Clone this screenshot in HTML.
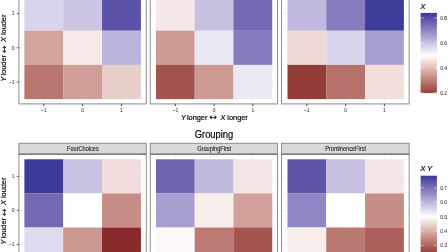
<!DOCTYPE html>
<html><head><meta charset="utf-8"><title>Grouping</title>
<style>html,body{margin:0;padding:0;background:#fff;overflow:hidden}svg{display:block}</style>
</head><body>
<svg width="448" height="252" viewBox="0 0 448 252" font-family="'Liberation Sans', sans-serif">
<rect width="448" height="252" fill="#fff"/>
<clipPath id="ct0"><rect x="18.9" y="-20" width="127.4" height="123.9"/></clipPath>
<g clip-path="url(#ct0)">
<line x1="24.40" x2="24.40" y1="-20" y2="103.9" stroke="#efefef" stroke-width="0.35"/>
<line y1="-3.46" y2="-3.46" x1="18.9" x2="146.3" stroke="#efefef" stroke-width="0.35"/>
<line x1="63.22" x2="63.22" y1="-20" y2="103.9" stroke="#efefef" stroke-width="0.35"/>
<line y1="30.71" y2="30.71" x1="18.9" x2="146.3" stroke="#efefef" stroke-width="0.35"/>
<line x1="102.04" x2="102.04" y1="-20" y2="103.9" stroke="#efefef" stroke-width="0.35"/>
<line y1="64.88" y2="64.88" x1="18.9" x2="146.3" stroke="#efefef" stroke-width="0.35"/>
<line x1="140.86" x2="140.86" y1="-20" y2="103.9" stroke="#efefef" stroke-width="0.35"/>
<line y1="99.05" y2="99.05" x1="18.9" x2="146.3" stroke="#efefef" stroke-width="0.35"/>
<line x1="43.81" x2="43.81" y1="-20" y2="103.9" stroke="#efefef" stroke-width="0.7"/>
<line y1="13.62" y2="13.62" x1="18.9" x2="146.3" stroke="#efefef" stroke-width="0.7"/>
<line x1="82.63" x2="82.63" y1="-20" y2="103.9" stroke="#efefef" stroke-width="0.7"/>
<line y1="47.79" y2="47.79" x1="18.9" x2="146.3" stroke="#efefef" stroke-width="0.7"/>
<line x1="121.45" x2="121.45" y1="-20" y2="103.9" stroke="#efefef" stroke-width="0.7"/>
<line y1="81.97" y2="81.97" x1="18.9" x2="146.3" stroke="#efefef" stroke-width="0.7"/>
<rect x="24.40" y="-3.46" width="38.87" height="34.22" fill="#d9d4eb"/>
<rect x="63.22" y="-3.46" width="38.87" height="34.22" fill="#ccc6e4"/>
<rect x="102.04" y="-3.46" width="38.87" height="34.22" fill="#5a53a7"/>
<rect x="24.40" y="30.71" width="38.87" height="34.22" fill="#d3a39d"/>
<rect x="63.22" y="30.71" width="38.87" height="34.22" fill="#f6eae8"/>
<rect x="102.04" y="30.71" width="38.87" height="34.22" fill="#bcb4db"/>
<rect x="24.40" y="64.88" width="38.87" height="34.22" fill="#b8766e"/>
<rect x="63.22" y="64.88" width="38.87" height="34.22" fill="#d09e98"/>
<rect x="102.04" y="64.88" width="38.87" height="34.22" fill="#e9cfcb"/>
</g>
<path d="M18.9,-20V103.9M146.3,-20V103.9" fill="none" stroke="#8a8a8a" stroke-width="0.95"/>
<line x1="18.42" x2="146.78" y1="103.9" y2="103.9" stroke="#a0a0a0" stroke-width="1.35"/>
<line x1="43.81" x2="43.81" y1="103.9" y2="106.10000000000001" stroke="#222" stroke-width="0.8"/>
<text transform="translate(43.81,111.50) scale(0.88,1)" font-size="5.6"  fill="#454545" stroke="#454545" stroke-width="0.08" text-anchor="middle">−1</text>
<line x1="82.63" x2="82.63" y1="103.9" y2="106.10000000000001" stroke="#222" stroke-width="0.8"/>
<text transform="translate(82.63,111.50) scale(0.88,1)" font-size="5.6"  fill="#454545" stroke="#454545" stroke-width="0.08" text-anchor="middle">0</text>
<line x1="121.45" x2="121.45" y1="103.9" y2="106.10000000000001" stroke="#222" stroke-width="0.8"/>
<text transform="translate(121.45,111.50) scale(0.88,1)" font-size="5.6"  fill="#454545" stroke="#454545" stroke-width="0.08" text-anchor="middle">1</text>
<clipPath id="ct1"><rect x="150.25" y="-20" width="127.3" height="123.9"/></clipPath>
<g clip-path="url(#ct1)">
<line x1="156.00" x2="156.00" y1="-20" y2="103.9" stroke="#efefef" stroke-width="0.35"/>
<line y1="-3.46" y2="-3.46" x1="150.25" x2="277.55" stroke="#efefef" stroke-width="0.35"/>
<line x1="194.72" x2="194.72" y1="-20" y2="103.9" stroke="#efefef" stroke-width="0.35"/>
<line y1="30.71" y2="30.71" x1="150.25" x2="277.55" stroke="#efefef" stroke-width="0.35"/>
<line x1="233.44" x2="233.44" y1="-20" y2="103.9" stroke="#efefef" stroke-width="0.35"/>
<line y1="64.88" y2="64.88" x1="150.25" x2="277.55" stroke="#efefef" stroke-width="0.35"/>
<line x1="272.16" x2="272.16" y1="-20" y2="103.9" stroke="#efefef" stroke-width="0.35"/>
<line y1="99.05" y2="99.05" x1="150.25" x2="277.55" stroke="#efefef" stroke-width="0.35"/>
<line x1="175.36" x2="175.36" y1="-20" y2="103.9" stroke="#efefef" stroke-width="0.7"/>
<line y1="13.62" y2="13.62" x1="150.25" x2="277.55" stroke="#efefef" stroke-width="0.7"/>
<line x1="214.08" x2="214.08" y1="-20" y2="103.9" stroke="#efefef" stroke-width="0.7"/>
<line y1="47.79" y2="47.79" x1="150.25" x2="277.55" stroke="#efefef" stroke-width="0.7"/>
<line x1="252.80" x2="252.80" y1="-20" y2="103.9" stroke="#efefef" stroke-width="0.7"/>
<line y1="81.97" y2="81.97" x1="150.25" x2="277.55" stroke="#efefef" stroke-width="0.7"/>
<rect x="156.00" y="-3.46" width="38.77" height="34.22" fill="#f5e8e6"/>
<rect x="194.72" y="-3.46" width="38.77" height="34.22" fill="#c6bfe0"/>
<rect x="233.44" y="-3.46" width="38.77" height="34.22" fill="#7268b3"/>
<rect x="156.00" y="30.71" width="38.77" height="34.22" fill="#ce9b94"/>
<rect x="194.72" y="30.71" width="38.77" height="34.22" fill="#ebe8f4"/>
<rect x="233.44" y="30.71" width="38.77" height="34.22" fill="#857abd"/>
<rect x="156.00" y="64.88" width="38.77" height="34.22" fill="#a2534c"/>
<rect x="194.72" y="64.88" width="38.77" height="34.22" fill="#ce9a94"/>
<rect x="233.44" y="64.88" width="38.77" height="34.22" fill="#ece9f5"/>
</g>
<path d="M150.25,-20V103.9M277.55,-20V103.9" fill="none" stroke="#8a8a8a" stroke-width="0.95"/>
<line x1="149.78" x2="278.03" y1="103.9" y2="103.9" stroke="#a0a0a0" stroke-width="1.35"/>
<line x1="175.36" x2="175.36" y1="103.9" y2="106.10000000000001" stroke="#222" stroke-width="0.8"/>
<text transform="translate(175.36,111.50) scale(0.88,1)" font-size="5.6"  fill="#454545" stroke="#454545" stroke-width="0.08" text-anchor="middle">−1</text>
<line x1="214.08" x2="214.08" y1="103.9" y2="106.10000000000001" stroke="#222" stroke-width="0.8"/>
<text transform="translate(214.08,111.50) scale(0.88,1)" font-size="5.6"  fill="#454545" stroke="#454545" stroke-width="0.08" text-anchor="middle">0</text>
<line x1="252.80" x2="252.80" y1="103.9" y2="106.10000000000001" stroke="#222" stroke-width="0.8"/>
<text transform="translate(252.80,111.50) scale(0.88,1)" font-size="5.6"  fill="#454545" stroke="#454545" stroke-width="0.08" text-anchor="middle">1</text>
<clipPath id="ct2"><rect x="281.5" y="-20" width="127.65" height="123.9"/></clipPath>
<g clip-path="url(#ct2)">
<line x1="287.50" x2="287.50" y1="-20" y2="103.9" stroke="#efefef" stroke-width="0.35"/>
<line y1="-3.46" y2="-3.46" x1="281.5" x2="409.15" stroke="#efefef" stroke-width="0.35"/>
<line x1="326.27" x2="326.27" y1="-20" y2="103.9" stroke="#efefef" stroke-width="0.35"/>
<line y1="30.71" y2="30.71" x1="281.5" x2="409.15" stroke="#efefef" stroke-width="0.35"/>
<line x1="365.04" x2="365.04" y1="-20" y2="103.9" stroke="#efefef" stroke-width="0.35"/>
<line y1="64.88" y2="64.88" x1="281.5" x2="409.15" stroke="#efefef" stroke-width="0.35"/>
<line x1="403.81" x2="403.81" y1="-20" y2="103.9" stroke="#efefef" stroke-width="0.35"/>
<line y1="99.05" y2="99.05" x1="281.5" x2="409.15" stroke="#efefef" stroke-width="0.35"/>
<line x1="306.88" x2="306.88" y1="-20" y2="103.9" stroke="#efefef" stroke-width="0.7"/>
<line y1="13.62" y2="13.62" x1="281.5" x2="409.15" stroke="#efefef" stroke-width="0.7"/>
<line x1="345.65" x2="345.65" y1="-20" y2="103.9" stroke="#efefef" stroke-width="0.7"/>
<line y1="47.79" y2="47.79" x1="281.5" x2="409.15" stroke="#efefef" stroke-width="0.7"/>
<line x1="384.43" x2="384.43" y1="-20" y2="103.9" stroke="#efefef" stroke-width="0.7"/>
<line y1="81.97" y2="81.97" x1="281.5" x2="409.15" stroke="#efefef" stroke-width="0.7"/>
<rect x="287.50" y="-3.46" width="38.82" height="34.22" fill="#c0b8dd"/>
<rect x="326.27" y="-3.46" width="38.82" height="34.22" fill="#877cbe"/>
<rect x="365.04" y="-3.46" width="38.82" height="34.22" fill="#3c3c99"/>
<rect x="287.50" y="30.71" width="38.82" height="34.22" fill="#eed8d5"/>
<rect x="326.27" y="30.71" width="38.82" height="34.22" fill="#d9d4eb"/>
<rect x="365.04" y="30.71" width="38.82" height="34.22" fill="#a89ed0"/>
<rect x="287.50" y="64.88" width="38.82" height="34.22" fill="#933d39"/>
<rect x="326.27" y="64.88" width="38.82" height="34.22" fill="#b6726a"/>
<rect x="365.04" y="64.88" width="38.82" height="34.22" fill="#f1dfdc"/>
</g>
<path d="M281.5,-20V103.9M409.15,-20V103.9" fill="none" stroke="#8a8a8a" stroke-width="0.95"/>
<line x1="281.02" x2="409.62" y1="103.9" y2="103.9" stroke="#a0a0a0" stroke-width="1.35"/>
<line x1="306.88" x2="306.88" y1="103.9" y2="106.10000000000001" stroke="#222" stroke-width="0.8"/>
<text transform="translate(306.88,111.50) scale(0.88,1)" font-size="5.6"  fill="#454545" stroke="#454545" stroke-width="0.08" text-anchor="middle">−1</text>
<line x1="345.65" x2="345.65" y1="103.9" y2="106.10000000000001" stroke="#222" stroke-width="0.8"/>
<text transform="translate(345.65,111.50) scale(0.88,1)" font-size="5.6"  fill="#454545" stroke="#454545" stroke-width="0.08" text-anchor="middle">0</text>
<line x1="384.43" x2="384.43" y1="103.9" y2="106.10000000000001" stroke="#222" stroke-width="0.8"/>
<text transform="translate(384.43,111.50) scale(0.88,1)" font-size="5.6"  fill="#454545" stroke="#454545" stroke-width="0.08" text-anchor="middle">1</text>
<line x1="16.80" x2="18.70" y1="13.62" y2="13.62" stroke="#222" stroke-width="0.8"/>
<text transform="translate(14.60,15.42) scale(0.88,1)" font-size="5.6"  fill="#454545" stroke="#454545" stroke-width="0.08" text-anchor="end">1</text>
<line x1="16.80" x2="18.70" y1="47.79" y2="47.79" stroke="#222" stroke-width="0.8"/>
<text transform="translate(14.60,49.59) scale(0.88,1)" font-size="5.6"  fill="#454545" stroke="#454545" stroke-width="0.08" text-anchor="end">0</text>
<line x1="16.80" x2="18.70" y1="81.97" y2="81.97" stroke="#222" stroke-width="0.8"/>
<text transform="translate(14.60,83.77) scale(0.88,1)" font-size="5.6"  fill="#454545" stroke="#454545" stroke-width="0.08" text-anchor="end">−1</text>
<clipPath id="cb0"><rect x="18.9" y="154.2" width="127.4" height="145.8"/></clipPath>
<g clip-path="url(#cb0)">
<line x1="24.40" x2="24.40" y1="154.2" y2="300" stroke="#efefef" stroke-width="0.35"/>
<line y1="159.30" y2="159.30" x1="18.9" x2="146.3" stroke="#efefef" stroke-width="0.35"/>
<line x1="63.22" x2="63.22" y1="154.2" y2="300" stroke="#efefef" stroke-width="0.35"/>
<line y1="193.40" y2="193.40" x1="18.9" x2="146.3" stroke="#efefef" stroke-width="0.35"/>
<line x1="102.04" x2="102.04" y1="154.2" y2="300" stroke="#efefef" stroke-width="0.35"/>
<line y1="227.50" y2="227.50" x1="18.9" x2="146.3" stroke="#efefef" stroke-width="0.35"/>
<line x1="140.86" x2="140.86" y1="154.2" y2="300" stroke="#efefef" stroke-width="0.35"/>
<line y1="261.60" y2="261.60" x1="18.9" x2="146.3" stroke="#efefef" stroke-width="0.35"/>
<line x1="43.81" x2="43.81" y1="154.2" y2="300" stroke="#efefef" stroke-width="0.7"/>
<line y1="176.35" y2="176.35" x1="18.9" x2="146.3" stroke="#efefef" stroke-width="0.7"/>
<line x1="82.63" x2="82.63" y1="154.2" y2="300" stroke="#efefef" stroke-width="0.7"/>
<line y1="210.45" y2="210.45" x1="18.9" x2="146.3" stroke="#efefef" stroke-width="0.7"/>
<line x1="121.45" x2="121.45" y1="154.2" y2="300" stroke="#efefef" stroke-width="0.7"/>
<line y1="244.55" y2="244.55" x1="18.9" x2="146.3" stroke="#efefef" stroke-width="0.7"/>
<rect x="24.40" y="159.30" width="38.87" height="34.15" fill="#3b3b99"/>
<rect x="63.22" y="159.30" width="38.87" height="34.15" fill="#c8c1e1"/>
<rect x="102.04" y="159.30" width="38.87" height="34.15" fill="#f1dedc"/>
<rect x="24.40" y="193.40" width="38.87" height="34.15" fill="#7369b3"/>
<rect x="63.22" y="193.40" width="38.87" height="34.15" fill="#ffffff"/>
<rect x="102.04" y="193.40" width="38.87" height="34.15" fill="#c78e87"/>
<rect x="24.40" y="227.50" width="38.87" height="34.15" fill="#dfdbee"/>
<rect x="63.22" y="227.50" width="38.87" height="34.15" fill="#cc9790"/>
<rect x="102.04" y="227.50" width="38.87" height="34.15" fill="#872a29"/>
</g>
<rect x="18.9" y="154.2" width="127.4" height="145.8" fill="none" stroke="#8a8a8a" stroke-width="0.95"/>
<rect x="18.9" y="143.3" width="127.4" height="10.899999999999977" fill="#d9d9d9" stroke="#8a8a8a" stroke-width="0.95"/>
<line x1="18.9" x2="146.3" y1="154.2" y2="154.2" stroke="#777" stroke-width="1.3"/>
<text transform="translate(82.90,150.65) scale(0.89,1)" font-size="6.3" fill="#1a1a1a" stroke="#1a1a1a" stroke-width="0.1" text-anchor="middle">FourChoices</text>
<clipPath id="cb1"><rect x="150.25" y="154.2" width="127.3" height="145.8"/></clipPath>
<g clip-path="url(#cb1)">
<line x1="156.00" x2="156.00" y1="154.2" y2="300" stroke="#efefef" stroke-width="0.35"/>
<line y1="159.30" y2="159.30" x1="150.25" x2="277.55" stroke="#efefef" stroke-width="0.35"/>
<line x1="194.72" x2="194.72" y1="154.2" y2="300" stroke="#efefef" stroke-width="0.35"/>
<line y1="193.40" y2="193.40" x1="150.25" x2="277.55" stroke="#efefef" stroke-width="0.35"/>
<line x1="233.44" x2="233.44" y1="154.2" y2="300" stroke="#efefef" stroke-width="0.35"/>
<line y1="227.50" y2="227.50" x1="150.25" x2="277.55" stroke="#efefef" stroke-width="0.35"/>
<line x1="272.16" x2="272.16" y1="154.2" y2="300" stroke="#efefef" stroke-width="0.35"/>
<line y1="261.60" y2="261.60" x1="150.25" x2="277.55" stroke="#efefef" stroke-width="0.35"/>
<line x1="175.36" x2="175.36" y1="154.2" y2="300" stroke="#efefef" stroke-width="0.7"/>
<line y1="176.35" y2="176.35" x1="150.25" x2="277.55" stroke="#efefef" stroke-width="0.7"/>
<line x1="214.08" x2="214.08" y1="154.2" y2="300" stroke="#efefef" stroke-width="0.7"/>
<line y1="210.45" y2="210.45" x1="150.25" x2="277.55" stroke="#efefef" stroke-width="0.7"/>
<line x1="252.80" x2="252.80" y1="154.2" y2="300" stroke="#efefef" stroke-width="0.7"/>
<line y1="244.55" y2="244.55" x1="150.25" x2="277.55" stroke="#efefef" stroke-width="0.7"/>
<rect x="156.00" y="159.30" width="38.77" height="34.15" fill="#6e65b1"/>
<rect x="194.72" y="159.30" width="38.77" height="34.15" fill="#c0b8dd"/>
<rect x="233.44" y="159.30" width="38.77" height="34.15" fill="#f4e6e4"/>
<rect x="156.00" y="193.40" width="38.77" height="34.15" fill="#a89fd0"/>
<rect x="194.72" y="193.40" width="38.77" height="34.15" fill="#f8efed"/>
<rect x="233.44" y="193.40" width="38.77" height="34.15" fill="#d2a19c"/>
<rect x="156.00" y="227.50" width="38.77" height="34.15" fill="#fcf8f7"/>
<rect x="194.72" y="227.50" width="38.77" height="34.15" fill="#bb7a73"/>
<rect x="233.44" y="227.50" width="38.77" height="34.15" fill="#a3544e"/>
</g>
<rect x="150.25" y="154.2" width="127.3" height="145.8" fill="none" stroke="#8a8a8a" stroke-width="0.95"/>
<rect x="150.25" y="143.3" width="127.3" height="10.899999999999977" fill="#d9d9d9" stroke="#8a8a8a" stroke-width="0.95"/>
<line x1="150.25" x2="277.55" y1="154.2" y2="154.2" stroke="#777" stroke-width="1.3"/>
<text transform="translate(214.20,150.65) scale(0.89,1)" font-size="6.3" fill="#1a1a1a" stroke="#1a1a1a" stroke-width="0.1" text-anchor="middle">GroupingFirst</text>
<clipPath id="cb2"><rect x="281.5" y="154.2" width="127.65" height="145.8"/></clipPath>
<g clip-path="url(#cb2)">
<line x1="287.50" x2="287.50" y1="154.2" y2="300" stroke="#efefef" stroke-width="0.35"/>
<line y1="159.30" y2="159.30" x1="281.5" x2="409.15" stroke="#efefef" stroke-width="0.35"/>
<line x1="326.27" x2="326.27" y1="154.2" y2="300" stroke="#efefef" stroke-width="0.35"/>
<line y1="193.40" y2="193.40" x1="281.5" x2="409.15" stroke="#efefef" stroke-width="0.35"/>
<line x1="365.04" x2="365.04" y1="154.2" y2="300" stroke="#efefef" stroke-width="0.35"/>
<line y1="227.50" y2="227.50" x1="281.5" x2="409.15" stroke="#efefef" stroke-width="0.35"/>
<line x1="403.81" x2="403.81" y1="154.2" y2="300" stroke="#efefef" stroke-width="0.35"/>
<line y1="261.60" y2="261.60" x1="281.5" x2="409.15" stroke="#efefef" stroke-width="0.35"/>
<line x1="306.88" x2="306.88" y1="154.2" y2="300" stroke="#efefef" stroke-width="0.7"/>
<line y1="176.35" y2="176.35" x1="281.5" x2="409.15" stroke="#efefef" stroke-width="0.7"/>
<line x1="345.65" x2="345.65" y1="154.2" y2="300" stroke="#efefef" stroke-width="0.7"/>
<line y1="210.45" y2="210.45" x1="281.5" x2="409.15" stroke="#efefef" stroke-width="0.7"/>
<line x1="384.43" x2="384.43" y1="154.2" y2="300" stroke="#efefef" stroke-width="0.7"/>
<line y1="244.55" y2="244.55" x1="281.5" x2="409.15" stroke="#efefef" stroke-width="0.7"/>
<rect x="287.50" y="159.30" width="38.82" height="34.15" fill="#5c55a8"/>
<rect x="326.27" y="159.30" width="38.82" height="34.15" fill="#c7c0e1"/>
<rect x="365.04" y="159.30" width="38.82" height="34.15" fill="#f4e6e4"/>
<rect x="287.50" y="193.40" width="38.82" height="34.15" fill="#9086c3"/>
<rect x="326.27" y="193.40" width="38.82" height="34.15" fill="#ffffff"/>
<rect x="365.04" y="193.40" width="38.82" height="34.15" fill="#c78e87"/>
<rect x="287.50" y="227.50" width="38.82" height="34.15" fill="#f8efed"/>
<rect x="326.27" y="227.50" width="38.82" height="34.15" fill="#b97870"/>
<rect x="365.04" y="227.50" width="38.82" height="34.15" fill="#ab6059"/>
</g>
<rect x="281.5" y="154.2" width="127.65" height="145.8" fill="none" stroke="#8a8a8a" stroke-width="0.95"/>
<rect x="281.5" y="143.3" width="127.65" height="10.899999999999977" fill="#d9d9d9" stroke="#8a8a8a" stroke-width="0.95"/>
<line x1="281.5" x2="409.15" y1="154.2" y2="154.2" stroke="#777" stroke-width="1.3"/>
<text transform="translate(345.62,150.65) scale(0.89,1)" font-size="6.3" fill="#1a1a1a" stroke="#1a1a1a" stroke-width="0.1" text-anchor="middle">ProminenceFirst</text>
<line x1="16.80" x2="18.70" y1="176.35" y2="176.35" stroke="#222" stroke-width="0.8"/>
<text transform="translate(14.60,178.15) scale(0.88,1)" font-size="5.6"  fill="#454545" stroke="#454545" stroke-width="0.08" text-anchor="end">1</text>
<line x1="16.80" x2="18.70" y1="210.45" y2="210.45" stroke="#222" stroke-width="0.8"/>
<text transform="translate(14.60,212.25) scale(0.88,1)" font-size="5.6"  fill="#454545" stroke="#454545" stroke-width="0.08" text-anchor="end">0</text>
<line x1="16.80" x2="18.70" y1="244.55" y2="244.55" stroke="#222" stroke-width="0.8"/>
<text transform="translate(14.60,246.35) scale(0.88,1)" font-size="5.6"  fill="#454545" stroke="#454545" stroke-width="0.08" text-anchor="end">−1</text>
<g transform="translate(180.9,119.7)" font-size="7.4" fill="#000" stroke="#000" stroke-width="0.18">
<text x="0" y="0" font-style="italic">Y</text>
<text x="6.0" y="0">longer</text>
<text x="32.5" y="0.6" text-anchor="middle" font-family="'DejaVu Sans', 'Liberation Sans', sans-serif" font-size="9.3" stroke="none">↔</text>
<text x="39.5" y="0" font-style="italic">X</text>
<text x="46.4" y="0">longer</text>
</g>
<text transform="translate(214.02,137.5) scale(0.915,1)" font-size="10.25" fill="#000" stroke="#000" stroke-width="0.18" text-anchor="middle">Grouping</text>
<g transform="translate(6.0,81.5) rotate(-90)" font-size="7.4" fill="#000" stroke="#000" stroke-width="0.18">
<text x="0" y="0" font-style="italic">Y</text>
<text x="6.0" y="0">louder</text>
<text x="32.5" y="0.6" text-anchor="middle" font-family="'DejaVu Sans', 'Liberation Sans', sans-serif" font-size="9.3" stroke="none">↔</text>
<text x="39.5" y="0" font-style="italic">X</text>
<text x="46.4" y="0">louder</text>
</g>
<g transform="translate(6.0,244.5) rotate(-90)" font-size="7.4" fill="#000" stroke="#000" stroke-width="0.18">
<text x="0" y="0" font-style="italic">Y</text>
<text x="6.0" y="0">louder</text>
<text x="32.5" y="0.6" text-anchor="middle" font-family="'DejaVu Sans', 'Liberation Sans', sans-serif" font-size="9.3" stroke="none">↔</text>
<text x="39.5" y="0" font-style="italic">X</text>
<text x="46.4" y="0">louder</text>
</g>
<linearGradient id="g1" x1="0" y1="0" x2="0" y2="1">
<stop offset="0.0000" stop-color="#3a3a98"/>
<stop offset="0.0250" stop-color="#46429d"/>
<stop offset="0.0500" stop-color="#504aa2"/>
<stop offset="0.0750" stop-color="#5a53a7"/>
<stop offset="0.1000" stop-color="#645bac"/>
<stop offset="0.1250" stop-color="#6e64b0"/>
<stop offset="0.1500" stop-color="#776db5"/>
<stop offset="0.1750" stop-color="#8076ba"/>
<stop offset="0.2000" stop-color="#897fbf"/>
<stop offset="0.2250" stop-color="#9288c4"/>
<stop offset="0.2500" stop-color="#9b91c9"/>
<stop offset="0.2750" stop-color="#a49bce"/>
<stop offset="0.3000" stop-color="#ada4d3"/>
<stop offset="0.3250" stop-color="#b6aed7"/>
<stop offset="0.3500" stop-color="#bfb7dc"/>
<stop offset="0.3750" stop-color="#c8c1e1"/>
<stop offset="0.4000" stop-color="#d1cbe6"/>
<stop offset="0.4250" stop-color="#dad5eb"/>
<stop offset="0.4500" stop-color="#e3dff0"/>
<stop offset="0.4750" stop-color="#ebe9f4"/>
<stop offset="0.5000" stop-color="#f4f3f9"/>
<stop offset="0.5250" stop-color="#fdfdfe"/>
<stop offset="0.5500" stop-color="#fbf6f6"/>
<stop offset="0.5750" stop-color="#f7ecea"/>
<stop offset="0.6000" stop-color="#f2e1df"/>
<stop offset="0.6250" stop-color="#edd7d4"/>
<stop offset="0.6500" stop-color="#e8ccc9"/>
<stop offset="0.6750" stop-color="#e3c2be"/>
<stop offset="0.7000" stop-color="#ddb7b3"/>
<stop offset="0.7250" stop-color="#d8ada8"/>
<stop offset="0.7500" stop-color="#d2a39d"/>
<stop offset="0.7750" stop-color="#cd9993"/>
<stop offset="0.8000" stop-color="#c78f88"/>
<stop offset="0.8250" stop-color="#c1857e"/>
<stop offset="0.8500" stop-color="#bb7b74"/>
<stop offset="0.8750" stop-color="#b5716a"/>
<stop offset="0.9000" stop-color="#af6760"/>
<stop offset="0.9250" stop-color="#a95d56"/>
<stop offset="0.9500" stop-color="#a2534d"/>
<stop offset="0.9750" stop-color="#9c4944"/>
<stop offset="1.0000" stop-color="#953f3a"/>
</linearGradient>
<rect x="420.6" y="12.9" width="16.30" height="80.20" fill="url(#g1)"/>
<line x1="420.6" x2="423.8" y1="17.9" y2="17.9" stroke="#fff" stroke-opacity="0.8" stroke-width="0.6"/>
<line x1="433.7" x2="436.9" y1="17.9" y2="17.9" stroke="#fff" stroke-opacity="0.8" stroke-width="0.6"/>
<text transform="translate(440.2,19.90) scale(0.88,1)" font-size="5.6" fill="#333" stroke="#333" stroke-width="0.06">0.8</text>
<line x1="420.6" x2="423.8" y1="43.1" y2="43.1" stroke="#fff" stroke-opacity="0.8" stroke-width="0.6"/>
<line x1="433.7" x2="436.9" y1="43.1" y2="43.1" stroke="#fff" stroke-opacity="0.8" stroke-width="0.6"/>
<text transform="translate(440.2,45.10) scale(0.88,1)" font-size="5.6" fill="#333" stroke="#333" stroke-width="0.06">0.6</text>
<line x1="420.6" x2="423.8" y1="67.9" y2="67.9" stroke="#fff" stroke-opacity="0.8" stroke-width="0.6"/>
<line x1="433.7" x2="436.9" y1="67.9" y2="67.9" stroke="#fff" stroke-opacity="0.8" stroke-width="0.6"/>
<text transform="translate(440.2,69.90) scale(0.88,1)" font-size="5.6" fill="#333" stroke="#333" stroke-width="0.06">0.4</text>
<line x1="420.6" x2="423.8" y1="92.75" y2="92.75" stroke="#fff" stroke-opacity="0.8" stroke-width="0.6"/>
<line x1="433.7" x2="436.9" y1="92.75" y2="92.75" stroke="#fff" stroke-opacity="0.8" stroke-width="0.6"/>
<text transform="translate(440.2,94.75) scale(0.88,1)" font-size="5.6" fill="#333" stroke="#333" stroke-width="0.06">0.2</text>
<text x="420.30" y="8.75" font-size="7.9" fill="#000" stroke="#000" stroke-width="0.18" font-style="italic">X</text>
<linearGradient id="g2" x1="0" y1="0" x2="0" y2="1">
<stop offset="0.0000" stop-color="#3a3a98"/>
<stop offset="0.0250" stop-color="#46439d"/>
<stop offset="0.0500" stop-color="#524ba2"/>
<stop offset="0.0750" stop-color="#5c54a8"/>
<stop offset="0.1000" stop-color="#675dad"/>
<stop offset="0.1250" stop-color="#7167b2"/>
<stop offset="0.1500" stop-color="#7a70b7"/>
<stop offset="0.1750" stop-color="#847abc"/>
<stop offset="0.2000" stop-color="#8e83c1"/>
<stop offset="0.2250" stop-color="#978dc7"/>
<stop offset="0.2500" stop-color="#a197cc"/>
<stop offset="0.2750" stop-color="#aaa1d1"/>
<stop offset="0.3000" stop-color="#b4abd6"/>
<stop offset="0.3250" stop-color="#bdb5db"/>
<stop offset="0.3500" stop-color="#c6bfe0"/>
<stop offset="0.3750" stop-color="#d0cae5"/>
<stop offset="0.4000" stop-color="#d9d4eb"/>
<stop offset="0.4250" stop-color="#e3dff0"/>
<stop offset="0.4500" stop-color="#ece9f5"/>
<stop offset="0.4750" stop-color="#f6f4fa"/>
<stop offset="0.5000" stop-color="#ffffff"/>
<stop offset="0.5250" stop-color="#faf4f3"/>
<stop offset="0.5500" stop-color="#f5e8e6"/>
<stop offset="0.5750" stop-color="#f0ddda"/>
<stop offset="0.6000" stop-color="#ead2ce"/>
<stop offset="0.6250" stop-color="#e5c7c3"/>
<stop offset="0.6500" stop-color="#dfbbb7"/>
<stop offset="0.6750" stop-color="#dab0ab"/>
<stop offset="0.7000" stop-color="#d4a6a0"/>
<stop offset="0.7250" stop-color="#ce9b95"/>
<stop offset="0.7500" stop-color="#c89089"/>
<stop offset="0.7750" stop-color="#c2857e"/>
<stop offset="0.8000" stop-color="#bb7b74"/>
<stop offset="0.8250" stop-color="#b57069"/>
<stop offset="0.8500" stop-color="#ae665e"/>
<stop offset="0.8750" stop-color="#a75b54"/>
<stop offset="0.9000" stop-color="#a0514a"/>
<stop offset="0.9250" stop-color="#994640"/>
<stop offset="0.9500" stop-color="#923b37"/>
<stop offset="0.9750" stop-color="#8b302d"/>
<stop offset="1.0000" stop-color="#832424"/>
</linearGradient>
<rect x="420.6" y="175.7" width="16.30" height="81.80" fill="url(#g2)"/>
<line x1="420.6" x2="423.8" y1="187.8" y2="187.8" stroke="#fff" stroke-opacity="0.8" stroke-width="0.6"/>
<line x1="433.7" x2="436.9" y1="187.8" y2="187.8" stroke="#fff" stroke-opacity="0.8" stroke-width="0.6"/>
<text transform="translate(440.2,189.80) scale(0.88,1)" font-size="5.6" fill="#333" stroke="#333" stroke-width="0.06">0.7</text>
<line x1="420.6" x2="423.8" y1="202.2" y2="202.2" stroke="#fff" stroke-opacity="0.8" stroke-width="0.6"/>
<line x1="433.7" x2="436.9" y1="202.2" y2="202.2" stroke="#fff" stroke-opacity="0.8" stroke-width="0.6"/>
<text transform="translate(440.2,204.20) scale(0.88,1)" font-size="5.6" fill="#333" stroke="#333" stroke-width="0.06">0.6</text>
<line x1="420.6" x2="423.8" y1="216.6" y2="216.6" stroke="#fff" stroke-opacity="0.8" stroke-width="0.6"/>
<line x1="433.7" x2="436.9" y1="216.6" y2="216.6" stroke="#fff" stroke-opacity="0.8" stroke-width="0.6"/>
<text transform="translate(440.2,218.60) scale(0.88,1)" font-size="5.6" fill="#333" stroke="#333" stroke-width="0.06">0.5</text>
<line x1="420.6" x2="423.8" y1="231.0" y2="231.0" stroke="#fff" stroke-opacity="0.8" stroke-width="0.6"/>
<line x1="433.7" x2="436.9" y1="231.0" y2="231.0" stroke="#fff" stroke-opacity="0.8" stroke-width="0.6"/>
<text transform="translate(440.2,233.00) scale(0.88,1)" font-size="5.6" fill="#333" stroke="#333" stroke-width="0.06">0.4</text>
<line x1="420.6" x2="423.8" y1="245.4" y2="245.4" stroke="#fff" stroke-opacity="0.8" stroke-width="0.6"/>
<line x1="433.7" x2="436.9" y1="245.4" y2="245.4" stroke="#fff" stroke-opacity="0.8" stroke-width="0.6"/>
<text transform="translate(440.2,247.40) scale(0.88,1)" font-size="5.6" fill="#333" stroke="#333" stroke-width="0.06">0.3</text>
<text x="420.30" y="170.9" font-size="7.9" fill="#000" stroke="#000" stroke-width="0.18" font-style="italic">X</text>
<text x="426.90" y="170.9" font-size="7.9" fill="#000" stroke="#000" stroke-width="0.18" font-style="italic">Y</text>
</svg>
</body></html>
